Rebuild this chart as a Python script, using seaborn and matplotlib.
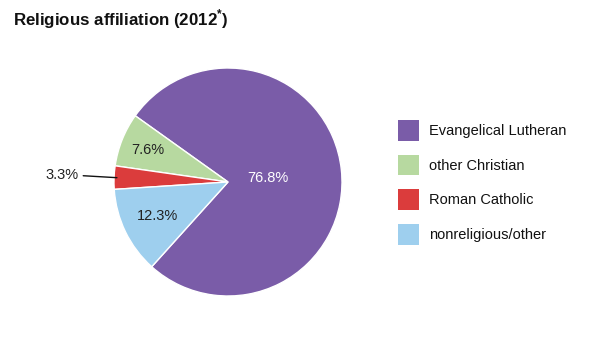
import numpy as np
import matplotlib
matplotlib.use("Agg")
import matplotlib.pyplot as plt
import seaborn as sns
from matplotlib.patches import Patch

categories = ["Evangelical Lutheran", "other Christian", "Roman Catholic", "nonreligious/other"]
values = [76.8, 7.6, 3.3, 12.3]
pct_labels = ["76.8%", "7.6%", "3.3%", "12.3%"]
colors = ["#7a5ca8", "#b7d9a0", "#db3c3c", "#9ecfee"]
title_text = "Religious affiliation (2012"

sns.set_theme(style="white")
plt.rcParams["font.family"] = ["Liberation Sans", "DejaVu Sans"]
plt.rcParams["mathtext.fontset"] = "custom"
plt.rcParams["mathtext.rm"] = "Liberation Sans"
plt.rcParams["mathtext.bf"] = "Liberation Sans:bold"

W, H = 612, 346
fig = plt.figure(figsize=(W / 100, H / 100), dpi=100)
fig.patch.set_facecolor("white")

cx, cy, r = 228, 182, 114
ax = fig.add_axes([(cx - r) / W, (H - cy - r) / H, 2 * r / W, 2 * r / H])

wedges, _ = ax.pie(values, colors=colors, startangle=228, counterclock=True,
                   radius=1, wedgeprops=dict(edgecolor="white", linewidth=1.0))
ax.set_xlim(-1, 1)
ax.set_ylim(-1, 1)
ax.set_axis_off()

dists = [0.35, 0.76, None, 0.69]
txtcol = ["white", "#222222", "#222222", "#222222"]
for w, lab, d, c in zip(wedges, pct_labels, dists, txtcol):
    mid = np.deg2rad((w.theta1 + w.theta2) / 2)
    if d is None:
        x0, y0 = 0.975 * np.cos(mid), 0.975 * np.sin(mid)
        ax.plot([-1.27, x0], [0.055, y0], color="#111111", lw=1.0, clip_on=False)
        ax.text(-1.31, 0.06, lab, ha="right", va="center", fontsize=10.5,
                color=c, clip_on=False)
    else:
        ax.text(d * np.cos(mid), d * np.sin(mid), lab, ha="center", va="center",
                fontsize=10.5, color=c)

fig.text(13 / W, 1 - 25 / H, title_text + r"$^{\mathbf{*}}$)", fontsize=12.2,
         fontweight="bold", ha="left", va="baseline", color="#111111")

handles = [Patch(facecolor=c, edgecolor="none") for c in colors]
leg = fig.legend(handles, categories, loc="upper left",
                 bbox_to_anchor=(398 / W, 1 - 120 / H), frameon=False,
                 borderpad=0, borderaxespad=0, fontsize=10.5,
                 handlelength=1.45, handleheight=1.8, handletextpad=0.68,
                 labelspacing=0.96)
for t in leg.get_texts():
    t.set_color("#111111")

fig.savefig("out.png", dpi=100)
